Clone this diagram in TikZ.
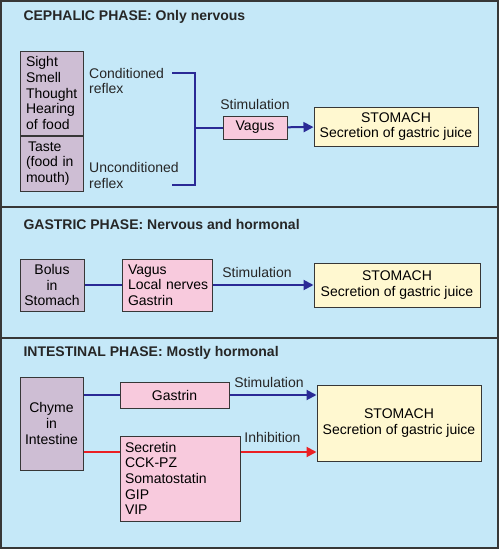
\documentclass[tikz,border=0pt]{standalone}
\usepackage{fontspec}
\setmainfont{Liberation Sans}
\usetikzlibrary{arrows.meta, positioning}
\definecolor{skyblue}{RGB}{197,232,248}
\definecolor{lilac}{RGB}{206,190,212}
\definecolor{pinkish}{RGB}{248,202,221}
\definecolor{cream}{RGB}{255,248,208}
\definecolor{nerveblue}{RGB}{42,42,150}
\definecolor{inhred}{RGB}{234,32,36}
\definecolor{edge}{RGB}{55,55,55}

\begin{document}
\begin{tikzpicture}[
        x=1pt, y=-1pt,
        font=\fontsize{14pt}{15.7pt}\selectfont,
        panel/.style={draw=edge, fill=skyblue, line width=1.2pt},
        title/.style={anchor=west, font=\fontsize{14pt}{15.7pt}\selectfont\bfseries, text=black!85},
        source/.style={draw=edge, fill=lilac, line width=1pt, align=center, inner sep=0pt},
        agent/.style={draw=edge, fill=pinkish, line width=1pt, align=center, inner sep=0pt},
        target/.style={draw=edge, fill=cream, line width=1pt, align=center, inner sep=0pt},
        lbl/.style={inner sep=1pt, text=black!85},
        nerve/.style={draw=nerveblue, line width=2pt},
        arrow/.style={-{Triangle[length=10pt, width=10pt]}, nerveblue, line width=2pt},
        inharrow/.style={-{Triangle[length=10pt, width=10pt]}, inhred, line width=2pt}
    ]
        \useasboundingbox (0,0) rectangle (500,549);
        % Panels
        \draw[panel] (1,1) rectangle (498,207);
        \draw[panel] (1,207) rectangle (498,338);
        \draw[panel] (1,338) rectangle (498,548);

        % Cephalic phase
        \node[title] (t1) at (20,17) {CEPHALIC PHASE: Only nervous};
        \node[source, minimum width=63, minimum height=84, text width=51, align=left] (senses) at (51.5,93) {Sight\\Smell\\Thought\\Hearing\\of food};
        \node[source, minimum width=63, minimum height=55, text width=51, align=left, below=0pt of senses] (taste) {\hspace{2pt}Taste\\(food in\\mouth)};
        \node[lbl, anchor=west, align=left] (cond) at (88,81) {Conditioned\\reflex};
        \node[lbl, anchor=west, align=left] (uncond) at (88,175.5) {Unconditioned\\reflex};
        \node[agent, minimum width=64, minimum height=23] (vagus) at (255,127.5) {Vagus};
        \node[lbl, above=5pt of vagus] (stim1) {Stimulation};
        \node[target, minimum width=164, minimum height=39] (stom1) at (396,126.5) {STOMACH\\Secretion of gastric juice};
        \coordinate (c1) at (172,73);
        \coordinate (c2) at (172,185);
        \coordinate (junc) at (195,127.5);
        \draw[nerve] (c1) -| (junc) |- (c2);
        \draw[nerve] (junc) -- (vagus);
        \draw[arrow] (vagus) -- (stom1);

        % Gastric phase
        \node[title] (t2) at (20,224) {GASTRIC PHASE: Nervous and hormonal};
        \node[source, minimum width=64, minimum height=52] (bolus) at (52,285) {Bolus\\in\\Stomach};
        \node[agent, minimum width=90, minimum height=52, text width=84, align=left] (local) at (167,285) {\hspace{3pt}Vagus\\\hspace{3pt}Local nerves\\\hspace{3pt}Gastrin};
        \node[target, minimum width=166, minimum height=44] (stom2) at (397,285) {STOMACH\\Secretion of gastric juice};
        \node[lbl] (stim2) at (257,272) {Stimulation};
        \draw[nerve] (bolus) -- (local);
        \draw[arrow] (local) -- (stom2);

        % Intestinal phase
        \node[title] (t3) at (20,353) {INTESTINAL PHASE: Mostly hormonal};
        \node[source, minimum width=63, minimum height=93] (chyme) at (51.5,423.5) {Chyme\\in\\Intestine};
        \node[agent, minimum width=109, minimum height=26] (gastrin) at (174.5,395) {Gastrin};
        \node[agent, minimum width=120, minimum height=85, text width=110, align=left] (horm) at (180,478.5) {Secretin\\CCK-PZ\\Somatostatin\\GIP\\VIP};
        \node[target, minimum width=164, minimum height=76] (stom3) at (399,423) {STOMACH\\Secretion of gastric juice};
        \node[lbl] (stim3) at (269,382) {Stimulation};
        \node[lbl] (inhib) at (272.5,437) {Inhibition};
        \coordinate (inh) at (100,452);
        \draw[nerve] (chyme.east |- gastrin) -- (gastrin);
        \draw[arrow] (gastrin) -- (stom3.west |- gastrin);
        \draw[inhred, line width=2pt] (chyme.east |- inh) -- (horm.west |- inh);
        \draw[inharrow] (horm.east |- inh) -- (stom3.west |- inh);
    \end{tikzpicture}
\end{document}
